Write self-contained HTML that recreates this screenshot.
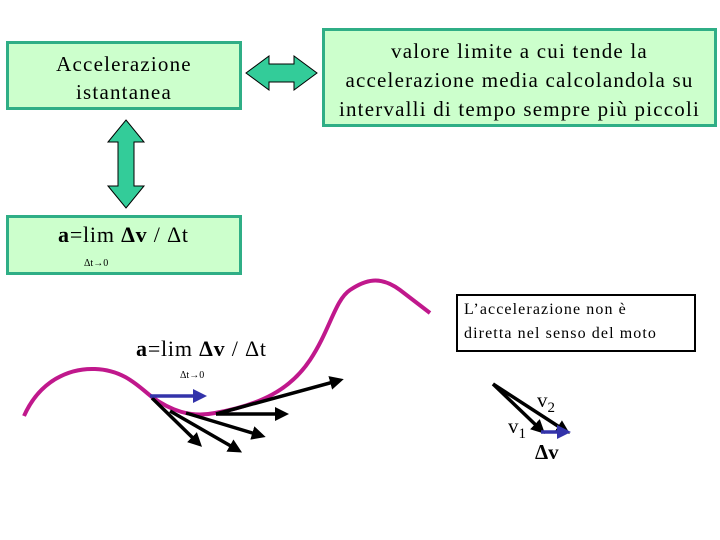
<!DOCTYPE html>
<html><head><meta charset="utf-8"><style>
body{margin:0;width:720px;height:540px;background:#fff;overflow:hidden;position:relative;font-family:"Liberation Serif",serif}
.box{position:absolute;background:#ccffcc;border:3px solid #2fae86;box-sizing:border-box;text-align:center;color:#000}
.t{position:absolute;white-space:nowrap}
</style></head><body>
<div class="box" style="left:6px;top:41px;width:236px;height:69px;font-size:21px;line-height:28px;padding-top:6px;letter-spacing:1.2px">Accelerazione<br>istantanea</div>
<div class="box" style="left:322px;top:28px;width:395px;height:99px;font-size:21px;line-height:29px;padding-top:6px;letter-spacing:1.2px">valore limite a cui tende la<br>accelerazione media calcolandola su<br>intervalli di tempo sempre più piccoli</div>
<div class="box" style="left:6px;top:215px;width:236px;height:60px"></div>
<div class="t" style="left:58px;top:222px;font-size:22px;letter-spacing:0.8px"><b>a</b>=lim <b>Δv</b> / Δt</div>
<div class="t" style="left:84px;top:258px;font-size:10px">Δt→0</div>
<div style="position:absolute;left:456px;top:294px;width:240px;height:58px;border:2px solid #000;box-sizing:border-box;background:#fff"></div>
<div class="t" style="left:464px;top:298px;font-size:16px;line-height:24px;letter-spacing:1.1px">L’accelerazione non è<br>diretta nel senso del moto</div>
<div class="t" style="left:136px;top:336px;font-size:22px;letter-spacing:0.8px"><b>a</b>=lim <b>Δv</b> / Δt</div>
<div class="t" style="left:180px;top:370px;font-size:10px">Δt→0</div>
<div class="t" style="left:537px;top:388px;font-size:21px">v<sub style="font-size:15px">2</sub></div>
<div class="t" style="left:508px;top:414px;font-size:21px">v<sub style="font-size:15px">1</sub></div>
<div class="t" style="left:535px;top:440px;font-size:21px"><b>Δv</b></div>
<svg width="720" height="540" style="position:absolute;left:0;top:0">
<defs>
<marker id="ab" markerWidth="4" markerHeight="4" refX="2" refY="2" orient="auto" markerUnits="strokeWidth"><path d="M0,0L4,2L0,4z" fill="#000"/></marker>
<marker id="au" markerWidth="4" markerHeight="4" refX="2" refY="2" orient="auto" markerUnits="strokeWidth"><path d="M0,0L4,2L0,4z" fill="#3333aa"/></marker>
</defs>
<path d="M246,73 L269,56 L269,64 L294,64 L294,56 L317,73 L294,90 L294,82 L269,82 L269,90 Z" fill="#33cc99" stroke="#000" stroke-width="1"/>
<path d="M126,120 L144,142 L134,142 L134,186 L144,186 L126,208 L108,186 L118,186 L118,142 L108,142 Z" fill="#33cc99" stroke="#000" stroke-width="1"/>
<path d="M24,416 C40,380 70,368 95,369 C125,370 140,388 152,397 C170,410 190,418 215,413 C260,405 290,390 310,360 C330,330 335,300 350,290 C365,280 380,275 400,290 L430,313" fill="none" stroke="#c0188c" stroke-width="4"/>
<g stroke="#000" stroke-width="3.5" marker-end="url(#ab)">
<line x1="152" y1="398" x2="197" y2="442"/>
<line x1="170" y1="411" x2="236" y2="449"/>
<line x1="186" y1="413" x2="259" y2="435"/>
<line x1="216" y1="414" x2="282" y2="414"/>
<line x1="216" y1="414" x2="337" y2="381"/>
<line x1="493" y1="384" x2="540" y2="429"/>
<line x1="493" y1="384" x2="564" y2="430"/>
</g>
<g stroke="#3333aa" stroke-width="3.5" marker-end="url(#au)">
<line x1="150" y1="396" x2="200" y2="396"/>
<line x1="541" y1="432" x2="564" y2="432"/>
</g>
</svg>
</body></html>
